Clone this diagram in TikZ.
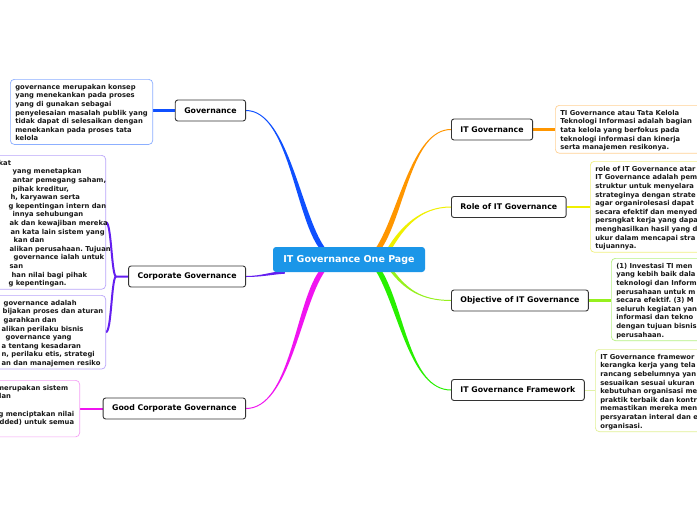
\documentclass[tikz,border=0pt]{standalone}
\usepackage{fontspec}
\setmainfont{DejaVu Sans}
\usetikzlibrary{calc,backgrounds}
\newcommand\boxfont{\fontsize{6.8}{8.6}\selectfont\bfseries\frenchspacing}
\newcommand\nodefont{\fontsize{7.8}{9.4}\selectfont\bfseries}
\newcommand\centerfont{\fontsize{9.5}{11}\selectfont\bfseries}
\newcommand\frag[2]{\makebox[150pt][l]{\hspace*{#1pt}#2}}
\newcommand\topr{\rule{0pt}{10pt}}
\newcommand\botr{\rule[-3.5pt]{0pt}{3.5pt}}
\newcommand\taper[7]{\fill[#1] ($#2+#6$) .. controls ($#3+#6$) and ($#4+#7$) .. ($#5+#7$) -- ($#5-#7$) .. controls ($#4-#7$) and ($#3-#6$) .. ($#2-#6$) -- cycle;}
\definecolor{cfill}{RGB}{27,150,232}
\definecolor{cblue}{RGB}{15,80,255}
\definecolor{cpurple}{RGB}{100,30,240}
\definecolor{cmag}{RGB}{240,20,240}
\definecolor{corange}{RGB}{255,150,0}
\definecolor{cyellow}{RGB}{240,240,0}
\definecolor{clime}{RGB}{150,240,30}
\definecolor{cgreen}{RGB}{40,240,0}
\definecolor{govbc}{RGB}{140,175,255}
\definecolor{corpbc}{RGB}{185,165,250}
\definecolor{goodbc}{RGB}{245,160,245}
\definecolor{itbc}{RGB}{255,210,150}
\definecolor{rolebc}{RGB}{240,240,130}
\definecolor{objbc}{RGB}{180,240,130}
\definecolor{fwbc}{RGB}{225,240,150}
\definecolor{fwline}{RGB}{225,240,170}
\begin{document}
\begin{tikzpicture}[x=1pt,y=-1pt,
  topic/.style={draw=black!80, line width=0.9pt, rounded corners=2.5pt, fill=white, font=\nodefont, inner xsep=9pt, inner ysep=0pt, minimum height=21pt, text=black},
  note/.style={line width=0.7pt, rounded corners=4pt, fill=white, font=\boxfont, inner xsep=5pt, inner ysep=0pt, align=left, text=black!90}]
\useasboundingbox (0,0) rectangle (697,520);
\node[fill=cfill, rounded corners=3pt, minimum width=152pt, minimum height=25pt, inner sep=0pt, text=white, font=\centerfont] (c) at (349,259.5) {IT Governance One Page};

\node[topic, anchor=east] (gov) at (246,110.5) {Governance};
\node[topic, anchor=east] (corp) at (246,276.5) {Corporate Governance};
\node[topic, anchor=east] (good) at (246,408.5) {Good Corporate Governance};
\node[topic, anchor=west] (itg) at (451,129.5) {IT Governance};
\node[topic, anchor=west] (role) at (451,207) {Role of IT Governance};
\node[topic, anchor=west] (obj) at (451,300.5) {Objective of IT Governance};
\node[topic, anchor=west] (fw) at (451,390) {IT Governance Framework};

\node[note, draw=govbc, anchor=north west] (govbox) at (10,79) {\topr governance merupakan konsep\\ yang menekankan pada proses\\ yang di gunakan sebagai\\ penyelesaian masalah publik yang\\ tidak dapat di selesaikan dengan\\ menekankan pada proses tata\\ kelola\botr};

\node[note, draw=corpbc, anchor=north east] (cb1) at (106,155) {\topr\frag{48}{kat}\\ \frag{62}{yang menetapkan}\\ \frag{62}{antar pemegang saham,}\\ \frag{62}{pihak kreditur,}\\ \frag{60}{h, karyawan serta}\\ \frag{58}{g kepentingan intern dan}\\ \frag{62}{innya sehubungan}\\ \frag{59}{ak dan kewajiban mereka}\\ \frag{60}{an kata lain sistem yang}\\ \frag{63}{kan dan}\\ \frag{59}{alikan perusahaan. Tujuan}\\ \frag{63}{governance ialah untuk}\\ \frag{59}{san}\\ \frag{61}{han nilai bagi pihak}\\ \frag{58}{g kepentingan.}\botr};

\node[note, draw=corpbc, anchor=north east] (cb2) at (106,295) {\topr\frag{53}{governance adalah}\\ \frag{52}{bijakan proses dan aturan}\\ \frag{53}{garahkan dan}\\ \frag{51}{alikan perilaku bisnis}\\ \frag{55}{governance yang}\\ \frag{51}{a tentang kesadaran}\\ \frag{51}{n, perilaku etis, strategi}\\ \frag{51}{an dan manajemen resiko}\botr};

\node[note, draw=goodbc, anchor=north east] (gb) at (80,380) {\topr\frag{72.5}{merupakan sistem}\\ \frag{72}{dan}\\ \frag{0}{}\\ \frag{74}{g menciptakan nilai}\\ \frag{75}{dded) untuk semua}\\ \frag{0}{}\botr};

\node[note, draw=itbc, anchor=north west, text width=190pt] (itb) at (555,105) {\topr TI Governance atau Tata Kelola\\ Teknologi Informasi adalah bagian\\ tata kelola yang berfokus pada\\ teknologi informasi dan kinerja\\ serta manajemen resikonya.\botr};

\node[note, draw=rolebc, anchor=north west, text width=190pt] (rb) at (590,161) {\topr role of IT Governance atar\\ IT Governance adalah pem\\ struktur untuk menyelara\\ strateginya dengan strate\\ agar organirolesasi dapat\\ secara efektif dan menyed\\ persngkat kerja yang dapa\\ menghasilkan hasil yang d\\ ukur dalam mencapai stra\\ tujuannya.\botr};

\node[note, draw=objbc, anchor=north west, text width=190pt] (ob) at (611,258) {\topr (1) Investasi TI men\\ yang kebih baik dala\\ teknologi dan Inform\\ perusahaan untuk m\\ secara efektif. (3) M\\ seluruh kegiatan yan\\ informasi dan tekno\\ dengan tujuan bisnis\\ perusahaan.\botr};

\node[note, draw=fwbc, anchor=north west, text width=190pt] (fb) at (595,349) {\topr IT Governance framewor\\ kerangka kerja yang tela\\ rancang sebelumnya yan\\ sesuaikan sesuai ukuran\\ kebutuhan organisasi me\\ praktik terbaik dan kontr\\ memastikan mereka men\\ persyaratan interal dan e\\ organisasi.\botr};

\begin{scope}[on background layer]
\fill[white] (0,0) rectangle (697,520);
\taper{cblue}{(gov.east)}{(288,110.5)}{(298,215)}{(c.north)+(-27,1)}{(0,0.5)}{(-3,0)}
\taper{cmag}{(good.east)}{(290,408.5)}{(298,305)}{(c.south)+(-27,-1)}{(0,0.5)}{(3,0)}
\taper{corange}{(itg.west)}{(412,129.5)}{(402,212)}{(c.north)+(30,1)}{(0,0.5)}{(3,0)}
\taper{cyellow}{(role.west)}{(420,207)}{(402,228)}{(c.north)+(41,1)}{(0,0.5)}{(2.3,0)}
\taper{clime}{(obj.west)}{(420,300.5)}{(405,288)}{(c.south)+(43,-1)}{(0,0.5)}{(-1.9,0)}
\taper{cgreen}{(fw.west)}{(410,390)}{(402,310)}{(c.south)+(30,-1)}{(0,0.5)}{(-3,0)}
\taper{cpurple}{(corp.east)}{(262,276.5)}{(272,273)}{(c.south west)+(12,0)}{(0,0.5)}{(0,1.5)}
\draw[cblue, line width=3pt] (gov.west) -- (gov.west -| govbox.east);
\draw[corange, line width=3pt] (itg.east) -- (itg.east -| itb.west);
\draw[cyellow, line width=2.5pt] (role.east) -- (role.east -| rb.west);
\draw[clime, line width=2.5pt] (obj.east) -- (obj.east -| ob.west);
\draw[fwline, line width=1pt] (fw.east) -- (fw.east -| fb.west);
\draw[cmag, line width=2pt] (good.west) -- (good.west -| gb.east);
\coordinate (brk) at ($(corp.west)+(-12,0)$);
\draw[cpurple, line width=2pt] (corp.west) -- (brk) .. controls (111.5,276.5) and (111.5,222) .. (cb1.east);
\draw[cpurple, line width=2pt] (brk) .. controls (111.5,276.5) and (111.5,332) .. (cb2.east);
\end{scope}
\end{tikzpicture}
\end{document}
